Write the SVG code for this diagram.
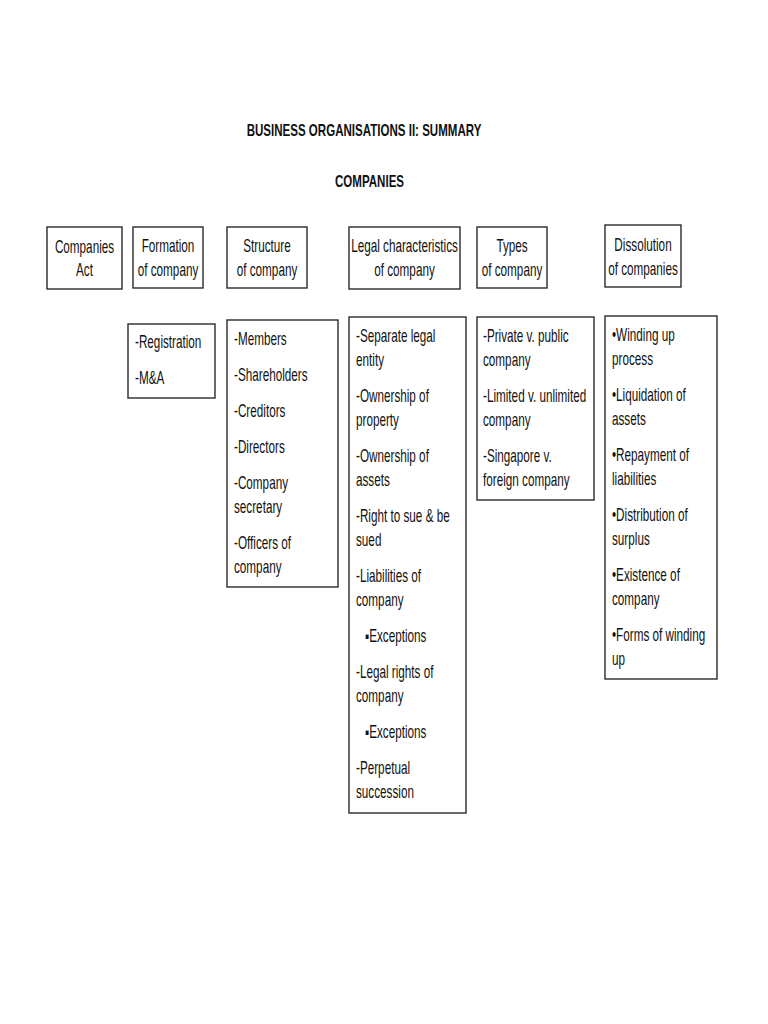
<svg xmlns="http://www.w3.org/2000/svg" width="768" height="1024" viewBox="0 0 768 1024">
<style>
  .bg { fill: #ffffff; }
  .box { fill: #ffffff; stroke: #2a2a2a; stroke-width: 1.4; }
  .t { font-family: "Liberation Sans", Arial, "DejaVu Sans", sans-serif; font-size: 17.5px; fill: #111111; }
  .c { text-anchor: middle; }
  .h { font-family: "Liberation Sans", Arial, sans-serif; font-size: 16.5px; font-weight: bold; fill: #111111; text-anchor: middle; }
</style>
<rect class="bg" x="0" y="0" width="768" height="1024"/>

<g id="title">
  <text class="h" transform="translate(364 0) scale(0.7 1)"><tspan x="0" y="136">BUSINESS ORGANISATIONS II: SUMMARY</tspan></text>
  <text class="h" transform="translate(369.5 0) scale(0.7 1)"><tspan x="0" y="187">COMPANIES</tspan></text>
</g>

<g id="node-companies-act">
  <rect class="box" x="47" y="227" width="75" height="62"/>
  <text class="t c" transform="translate(84.5 0) scale(0.67 1)"><tspan x="0" y="253">Companies</tspan><tspan x="0" y="276">Act</tspan></text>
</g>

<g id="node-formation">
  <rect class="box" x="133" y="227" width="70" height="61"/>
  <text class="t c" transform="translate(168 0) scale(0.67 1)"><tspan x="0" y="252">Formation</tspan><tspan x="0" y="276">of company</tspan></text>
</g>

<g id="node-structure">
  <rect class="box" x="227" y="227" width="80" height="61"/>
  <text class="t c" transform="translate(267 0) scale(0.67 1)"><tspan x="0" y="252">Structure</tspan><tspan x="0" y="276">of company</tspan></text>
</g>

<g id="node-legal">
  <rect class="box" x="349" y="227" width="111" height="62"/>
  <text class="t c" transform="translate(404.5 0) scale(0.67 1)"><tspan x="0" y="252">Legal characteristics</tspan><tspan x="0" y="276">of company</tspan></text>
</g>

<g id="node-types">
  <rect class="box" x="477" y="227" width="70" height="61"/>
  <text class="t c" transform="translate(512 0) scale(0.67 1)"><tspan x="0" y="252">Types</tspan><tspan x="0" y="276">of company</tspan></text>
</g>

<g id="node-dissolution">
  <rect class="box" x="605" y="225" width="76" height="62"/>
  <text class="t c" transform="translate(643 0) scale(0.67 1)"><tspan x="0" y="251">Dissolution</tspan><tspan x="0" y="275">of companies</tspan></text>
</g>

<g id="node-formation-list">
  <rect class="box" x="128" y="324" width="87" height="74"/>
  <text class="t" transform="translate(135 0) scale(0.67 1)"><tspan x="0" y="348">-Registration</tspan><tspan x="0" y="384">-M&amp;A</tspan></text>
</g>

<g id="node-structure-list">
  <rect class="box" x="227" y="320" width="111" height="267"/>
  <text class="t" transform="translate(234 0) scale(0.67 1)"><tspan x="0" y="345">-Members</tspan><tspan x="0" y="381">-Shareholders</tspan><tspan x="0" y="417">-Creditors</tspan><tspan x="0" y="453">-Directors</tspan><tspan x="0" y="489">-Company</tspan><tspan x="0" y="513">secretary</tspan><tspan x="0" y="549">-Officers of</tspan><tspan x="0" y="573">company</tspan></text>
</g>

<g id="node-legal-list">
  <rect class="box" x="349" y="317" width="117" height="496"/>
  <text class="t" transform="translate(356 0) scale(0.67 1)"><tspan x="0" y="342">-Separate legal</tspan><tspan x="0" y="366">entity</tspan><tspan x="0" y="402">-Ownership of</tspan><tspan x="0" y="426">property</tspan><tspan x="0" y="462">-Ownership of</tspan><tspan x="0" y="486">assets</tspan><tspan x="0" y="522">-Right to sue &amp; be</tspan><tspan x="0" y="546">sued</tspan><tspan x="0" y="582">-Liabilities of</tspan><tspan x="0" y="606">company</tspan><tspan x="0" y="678">-Legal rights of</tspan><tspan x="0" y="702">company</tspan><tspan x="0" y="774">-Perpetual</tspan><tspan x="0" y="798">succession</tspan></text>
  <text class="t" transform="translate(365 0) scale(0.67 1)"><tspan x="0" y="642">▪Exceptions</tspan><tspan x="0" y="738">▪Exceptions</tspan></text>
</g>

<g id="node-types-list">
  <rect class="box" x="477" y="317" width="117" height="183"/>
  <text class="t" transform="translate(483 0) scale(0.67 1)"><tspan x="0" y="342">-Private v. public</tspan><tspan x="0" y="366">company</tspan><tspan x="0" y="402">-Limited v. unlimited</tspan><tspan x="0" y="426">company</tspan><tspan x="0" y="462">-Singapore v.</tspan><tspan x="0" y="486">foreign company</tspan></text>
</g>

<g id="node-dissolution-list">
  <rect class="box" x="605" y="316" width="112" height="363"/>
  <text class="t" transform="translate(612 0) scale(0.67 1)"><tspan x="0" y="341">•Winding up</tspan><tspan x="0" y="365">process</tspan><tspan x="0" y="401">•Liquidation of</tspan><tspan x="0" y="425">assets</tspan><tspan x="0" y="461">•Repayment of</tspan><tspan x="0" y="485">liabilities</tspan><tspan x="0" y="521">•Distribution of</tspan><tspan x="0" y="545">surplus</tspan><tspan x="0" y="581">•Existence of</tspan><tspan x="0" y="605">company</tspan><tspan x="0" y="641">•Forms of winding</tspan><tspan x="0" y="665">up</tspan></text>
</g>

<g id="connectors"></g>
</svg>
